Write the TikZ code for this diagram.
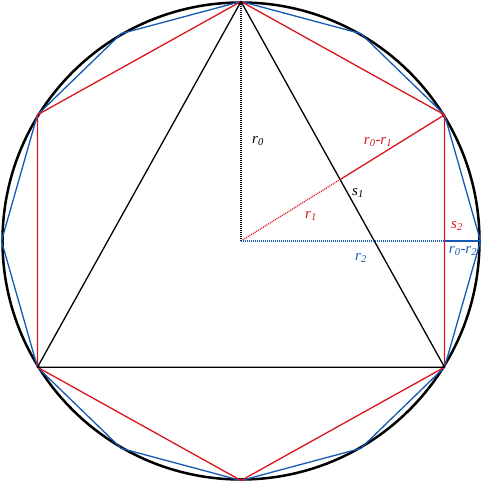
\documentclass[tikz,border=0pt]{standalone}
\usepackage{fontspec}
\setmainfont{Liberation Serif}
\definecolor{hexred}{RGB}{220,20,30}
\definecolor{dodblue}{RGB}{20,90,180}
\begin{document}
\begin{tikzpicture}[x=1bp, y=1bp, line join=round, line width=1.3bp,
    every node/.style={font=\fontsize{15}{17}\selectfont\itshape, inner sep=0pt},
    fine dots/.style={dash pattern=on 1bp off 1bp}]
    \useasboundingbox (-241,-241) rectangle (241,241);
    \def\a{31.8}

        % Centre and circle.
        \coordinate (O) at (0,0);
        \draw[line width=2.5bp] (O) circle (238.5);

        % Corners on the circle.
        \foreach \ang/\i in {0/0, \a/1, 60/2, 90/3, 120/4, 180-\a/5, 180/6, 180+\a/7, 240/8, 270/9, 300/10, 360-\a/11}
            \coordinate (P-\i) at (\ang:239.5);

        % Twelve sides.
        \draw[dodblue] (P-0) \foreach \i in {1,...,11} {-- (P-\i)} -- cycle;
        % Six sides.
        \draw[hexred] (P-1) -- (P-3) -- (P-5) -- (P-7) -- (P-9) -- (P-11) -- cycle;
        % Three sides.
        \draw (P-3) -- (P-7) -- (P-11) -- cycle;

        % Radii.
        \coordinate (M-1) at (intersection of O--P-1 and P-3--P-11);
        \coordinate (M-2) at (intersection of O--P-0 and P-1--P-11);
        \draw[fine dots] (O) -- (P-3);
        \draw[hexred, fine dots] (O) -- (M-1);
        \draw[hexred] (M-1) -- (P-1);
        \draw[dodblue, fine dots] (O) -- (M-2);
        \draw[dodblue] (M-2) -- (P-0);

        % Labels.
        \node (L-r0) at (17,100) {r\textsubscript{0}};
        \node[text=hexred] (L-r01) at (137,99) {r\textsubscript{0}-r\textsubscript{1}};
        \node (L-s1) at (117,48) {s\textsubscript{1}};
        \node[text=hexred] (L-r1) at (70,25) {r\textsubscript{1}};
        \node[text=hexred] (L-s2) at (216,15) {s\textsubscript{2}};
        \node[text=dodblue] (L-r2) at (120,-17) {r\textsubscript{2}};
        \node[text=dodblue] (L-r02) at (222,-10) {r\textsubscript{0}-r\textsubscript{2}};

\end{tikzpicture}
\end{document}
